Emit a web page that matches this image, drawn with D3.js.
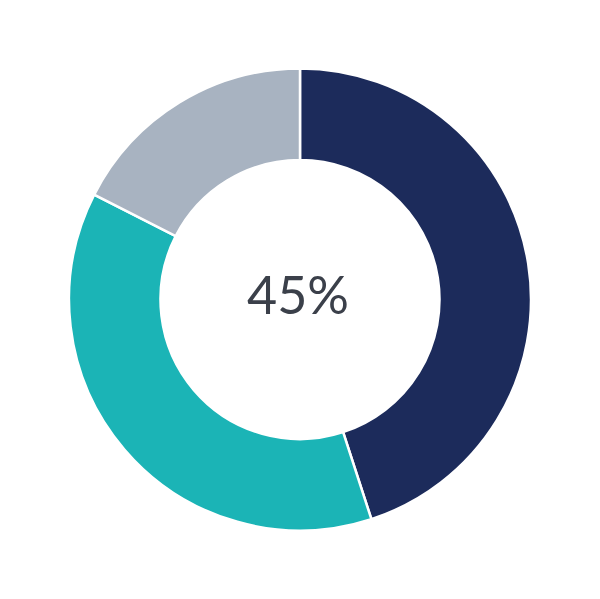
<!DOCTYPE html>
<html><head><meta charset="utf-8">
<script src="https://cdn.jsdelivr.net/npm/d3@7"></script>
<style>html,body{margin:0;padding:0;background:#fff;}</style>
</head><body>
<svg id="c" width="600" height="599"></svg>
<script>
const categories = ["A", "B", "C"];
const values = [45, 37.5, 17.5];
const colors = ["#1c2b5b", "#1bb4b6", "#a8b3c1"];
const centerLabel = "45%";

const svg = d3.select("#c");
const g = svg.append("g").attr("transform", "translate(300,299.5)");
const pie = d3.pie().sort(null).value(d => d)(values);
const arc = d3.arc().innerRadius(139.5).outerRadius(231);
g.selectAll("path").data(pie).join("path")
  .attr("d", arc)
  .attr("fill", (d, i) => colors[i])
  .attr("stroke", "#fff").attr("stroke-width", 2.5);
g.append("text").text(centerLabel)
  .attr("x", -2).attr("y", 14)
  .attr("text-anchor", "middle")
  .attr("font-family", "Lato, sans-serif")
  .attr("font-size", 52)
  .attr("fill", "#3b404a");
</script>
</body></html>
